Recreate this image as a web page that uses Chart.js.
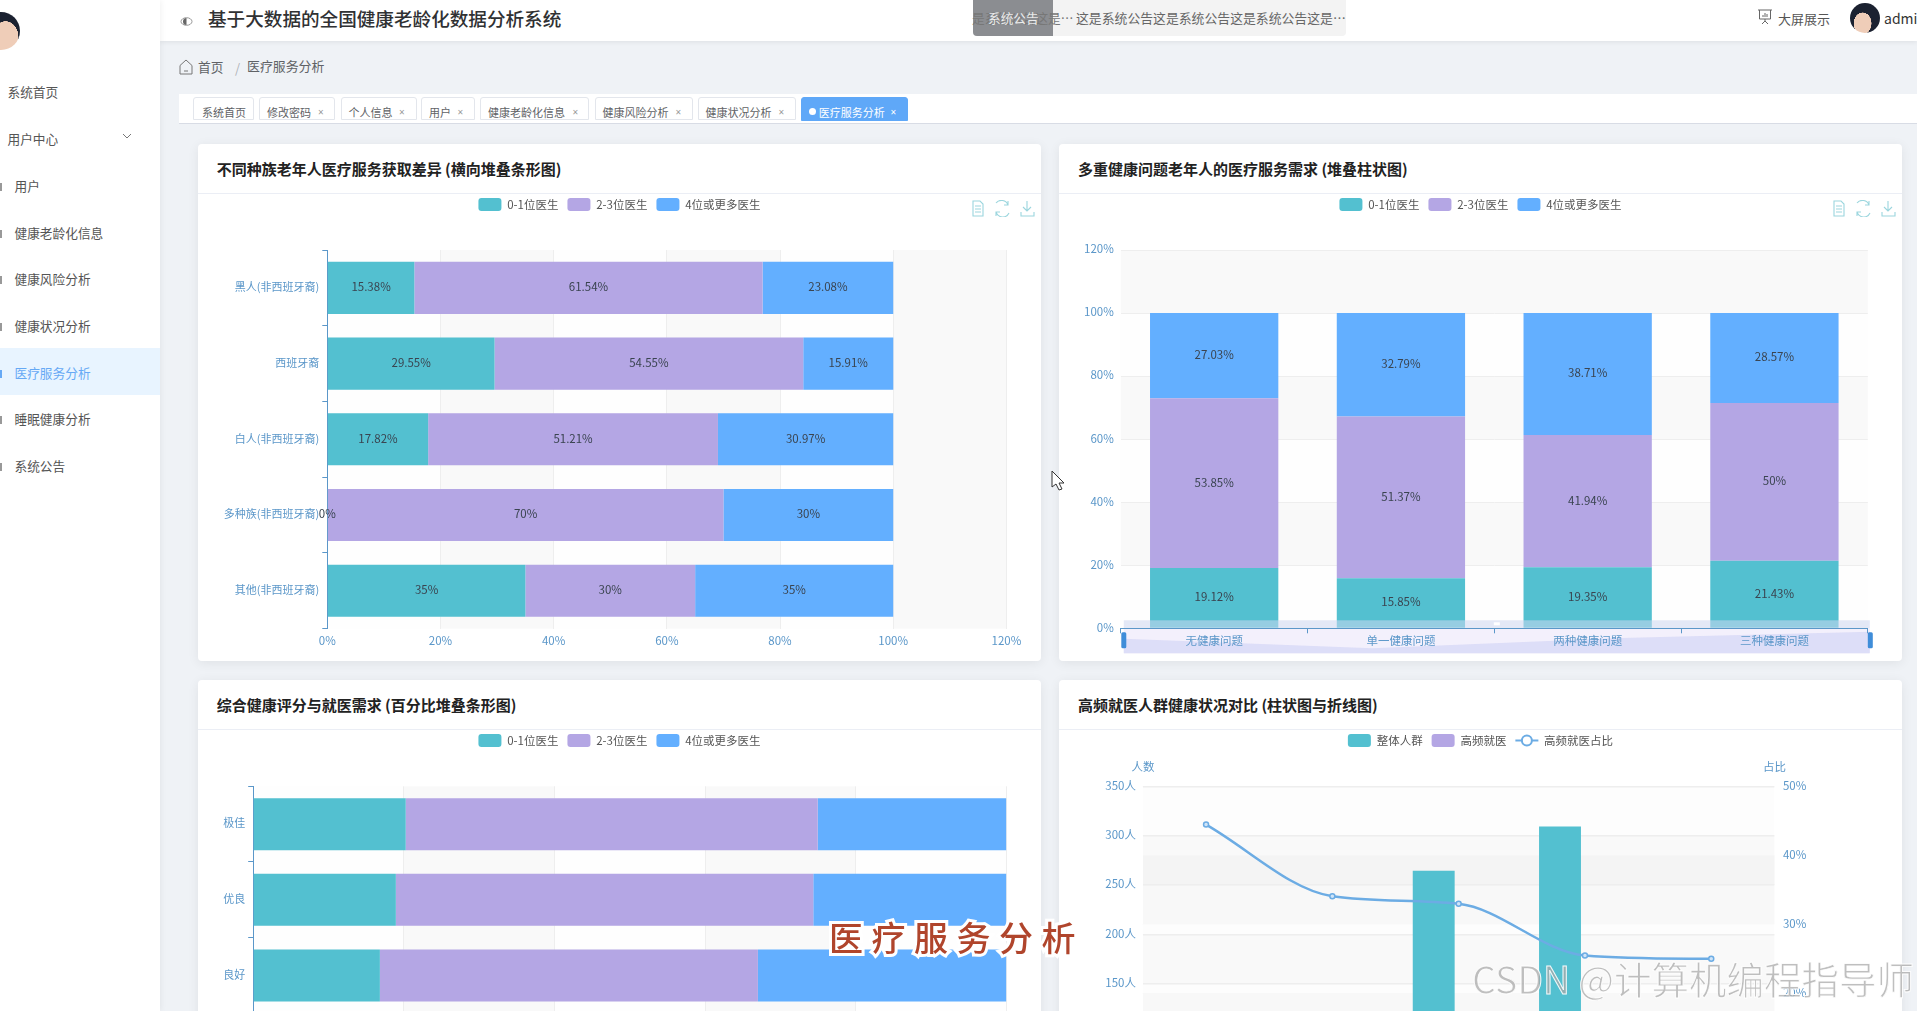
<!DOCTYPE html>
<html lang="zh">
<head>
<meta charset="utf-8">
<title>医疗服务分析</title>
<script src="https://cdn.jsdelivr.net/npm/chart.js@4/dist/chart.umd.js"></script>
<style>
html,body{margin:0;padding:0;width:1917px;height:1011px;overflow:hidden;background:#eff2f6;font-family:"Noto Sans CJK SC","Noto Sans",sans-serif;}
#page{position:relative;width:1917px;height:1011px;overflow:hidden;}
.abs{position:absolute;white-space:nowrap;}
.t{position:absolute;white-space:nowrap;line-height:1;transform:translateY(-50%);}
.card{position:absolute;background:#fff;border-radius:4px;box-shadow:0 2px 12px rgba(0,0,0,.07);}
.card .hd{position:absolute;left:0;right:0;top:0;height:49px;border-bottom:1px solid #ebeef5;box-sizing:content-box;}
.card .ttl{position:absolute;left:19px;top:24px;transform:translateY(-50%);font-size:15px;font-weight:700;color:#222;line-height:1;white-space:nowrap;}
canvas{position:absolute;display:block;}
.tab{position:absolute;top:97px;height:23px;border:1px solid #e3e6ec;border-radius:3px 3px 0 0;background:#fff;box-sizing:border-box;}
</style>
</head>
<body>
<div id="page">
  <div class="abs" style="left:160px;top:0;width:1757px;height:41px;background:#fff;box-shadow:0 1px 5px rgba(0,0,0,.08);"></div>
  <div class="abs" style="left:0;top:0;width:160px;height:1011px;background:#fff;box-shadow:1px 0 6px rgba(0,0,0,.06);"></div>
  <div class="abs" style="left:0;top:348px;width:160px;height:47px;background:#e8f4ff;"></div>
  <div class="abs" style="left:-18px;top:12px;width:38px;height:38px;border-radius:50%;background:radial-gradient(ellipse 13px 16px at 62% 66%,#efcdb8 0 98%,transparent 100%),#1b2130;"></div>
  <div class="abs" style="left:1850px;top:3px;width:30px;height:30px;border-radius:50%;background:radial-gradient(ellipse 9px 11px at 42% 68%,#efcdb8 0 98%,transparent 100%),#1b2130;"></div>
  <svg class="abs" style="left:180px;top:17px" width="13" height="9" viewBox="0 0 13 9"><ellipse cx="6.500" cy="4.500" rx="5.500" ry="3.800" fill="#fff" stroke="#999"/><path d="M6.500 1a3.500 3.500 0 0 0 0 7z" fill="#666"/></svg>
  <svg class="abs" style="left:122px;top:133px" width="10" height="7" viewBox="0 0 10 7"><path d="M1 1l4 4 4-4" fill="none" stroke="#777"/></svg>
  <svg class="abs" style="left:179px;top:59px" width="14" height="16" viewBox="0 0 14 16"><path d="M1 6.500L7 1l6 5.500V15H1z M5 12h4" fill="none" stroke="#777"/></svg>
  <svg class="abs" style="left:1757px;top:9px" width="16" height="16" viewBox="0 0 16 16"><path d="M1 1h14M2.500 1v9h11V1M8 10v2M5 15l3-3 3 3M6 8V6M8 8V4M10 8V5" fill="none" stroke="#666"/></svg>
  <div class="abs" style="left:178.800px;top:94px;width:1738px;height:30px;background:#fff;border-bottom:1px solid #d8dce5;box-sizing:border-box;"></div>
  <div class="abs" style="left:973px;top:0;width:373px;height:36px;background:#f3f3f3;border-radius:0 0 4px 4px;"></div>
  <div class="abs" style="left:973px;top:0;width:80px;height:36px;background:#8b8d91;border-radius:0 0 0 4px;"></div>

  <div class="card" style="left:197.700px;top:144px;width:843px;height:517px;"><div class="hd"></div><div class="ttl">不同种族老年人医疗服务获取差异 (横向堆叠条形图)</div></div>
  <div class="card" style="left:1059px;top:144px;width:843px;height:517px;"><div class="hd"></div><div class="ttl">多重健康问题老年人的医疗服务需求 (堆叠柱状图)</div></div>
  <div class="card" style="left:197.700px;top:680px;width:843px;height:517px;"><div class="hd"></div><div class="ttl">综合健康评分与就医需求 (百分比堆叠条形图)</div></div>
  <div class="card" style="left:1059px;top:680px;width:843px;height:517px;"><div class="hd"></div><div class="ttl">高频就医人群健康状况对比 (柱状图与折线图)</div></div>

  <canvas id="c1" style="left:197.700px;top:189px" width="843" height="472"></canvas>
  <canvas id="c2" style="left:1059px;top:189px" width="843" height="472"></canvas>
  <canvas id="c3" style="left:197.700px;top:725px" width="843" height="321"></canvas>
  <canvas id="c4" style="left:1059px;top:725px" width="843" height="438"></canvas>

  <div id="chrome"></div>

  <svg class="abs" style="left:972px;top:200px" width="64" height="17" viewBox="0 0 64 17" fill="none" stroke="#9bd6de" stroke-width="1.100"><path d="M1 1h7l3 3v12H1z M3 6h6M3 9h6M3 12h6"/><path d="M24 3a7 7 0 0 1 12 2M37 13a7 7 0 0 1-13-1M36 1v4h-4M24 16v-4h4"/><path d="M55 1v10M51 7l4 4 4-4M49 12v4h13v-4"/></svg>
  <svg class="abs" style="left:1833px;top:200px" width="64" height="17" viewBox="0 0 64 17" fill="none" stroke="#9bd6de" stroke-width="1.100"><path d="M1 1h7l3 3v12H1z M3 6h6M3 9h6M3 12h6"/><path d="M24 3a7 7 0 0 1 12 2M37 13a7 7 0 0 1-13-1M36 1v4h-4M24 16v-4h4"/><path d="M55 1v10M51 7l4 4 4-4M49 12v4h13v-4"/></svg>
  <svg class="abs" style="left:1051px;top:470px" width="16" height="22" viewBox="0 0 16 22"><path d="M1 1v16l4-3 3 6 3-1-3-6h5z" fill="#fff" stroke="#333"/></svg>

  <div class="t" style="left:829px;top:937px;font-size:34px;letter-spacing:8.500px;color:#b0452c;font-weight:500;-webkit-text-stroke:6px #fff;paint-order:stroke fill;">医疗服务分析</div>
  <div class="t" style="left:1472px;top:978px;font-size:37.500px;color:rgba(170,170,170,.75);-webkit-text-stroke:1px rgba(255,255,255,.9);">CSDN @计算机编程指导师</div>
</div>

<script>
// ---------- chart data ----------
const doctorLegend = ['0-1位医生', '2-3位医生', '4位或更多医生'];

const raceCategories = ['黑人(非西班牙裔)', '西班牙裔', '白人(非西班牙裔)', '多种族(非西班牙裔)', '其他(非西班牙裔)'];
const raceLow  = [15.38, 29.55, 17.82, 0, 35];
const raceMid  = [61.54, 54.55, 51.21, 70, 30];
const raceHigh = [23.08, 15.91, 30.97, 30, 35];

const illnessCategories = ['无健康问题', '单一健康问题', '两种健康问题', '三种健康问题'];
const illnessLow  = [19.12, 15.85, 19.35, 21.43];
const illnessMid  = [53.85, 51.37, 41.94, 50];
const illnessHigh = [27.03, 32.79, 38.71, 28.57];

const scoreCategories = ['极佳', '优良', '良好'];
const scoreLow  = [20.25, 18.94, 16.82];
const scoreMid  = [54.70, 55.42, 50.19];
const scoreHigh = [25.05, 25.64, 32.99];

const frequentLegend = ['整体人群', '高频就医', '高频就医占比'];
const frequentCategories = ['极佳', '优良', '良好', '一般', '较差'];
const frequentAll   = [null, null, 264.5, 309.6, null];
const frequentHigh  = [null, null, null, null, null];
const frequentShare = [44.5, 34.1, 33.0, 25.5, 25.0];

// ---------- page chrome text ----------
const menuItems = [['系统首页',8,93],['用户中心',8,140],['用户',15,187],['健康老龄化信息',15,233.5],['健康风险分析',15,280],['健康状况分析',15,327],['医疗服务分析',15,373.5],['睡眠健康分析',15,420],['系统公告',15,467]];
const tabs = [['系统首页',193,61,202,null],['修改密码',259,76,267,318],['个人信息',340.5,76,348.4,399],['用户',421,54,429,457.5],['健康老龄化信息',479.5,109,488,572.5],['健康风险分析',594.6,98,602.6,675.5],['健康状况分析',697.5,98,705.4,778.5]];

const chrome = document.getElementById('chrome');
function txt(s, x, y, size, color, extra) {
  const d = document.createElement('div');
  d.className = 't'; d.textContent = s;
  d.style.cssText = `left:${x}px;top:${y}px;font-size:${size}px;color:${color};${extra||''}`;
  chrome.appendChild(d);
}
menuItems.forEach(m => txt(m[0], m[1]-0.5, m[2]-0.7, 12.7, m[0]==='医疗服务分析' ? '#66a9f5' : '#555'));
txt('基于大数据的全国健康老龄化数据分析系统', 208, 17.5, 18.6, '#303133', 'font-weight:500;');
txt('首页', 198, 67, 12.7, '#606266');
txt('/', 235, 67, 13, '#b0b3b8');
txt('医疗服务分析', 247, 66, 12.9, '#606266');
txt('是系统公告这是…', 972, 18, 12.7, '#777');
txt('系统公告', 988, 18, 12.7, 'rgba(255,255,255,.85)');
txt('这是系统公告这是系统公告这是系统公告这是…', 1076, 18, 12.85, '#666');
txt('大屏展示', 1778, 18, 13, '#555');
txt('admin', 1884, 18, 14, '#333');
tabs.forEach(t => {
  const b = document.createElement('div');
  b.className = 'tab'; b.style.left = t[1]+'px'; b.style.width = t[2]+'px';
  chrome.appendChild(b);
  txt(t[0], t[3], 112, 11, '#606266');
  if (t[4]) txt('×', t[4], 112, 10, '#999', 'font-family:"Noto Sans";');
});
const active = document.createElement('div');
active.className = 'tab';
active.style.cssText = 'left:801px;width:106.5px;top:97px;height:24px;background:#5fa8f8;border-color:#5fa8f8;';
chrome.appendChild(active);
const dot = document.createElement('div');
dot.className = 'abs';
dot.style.cssText = 'left:809px;top:108px;width:7px;height:7px;border-radius:50%;background:#fff;';
chrome.appendChild(dot);
txt('医疗服务分析', 818.7, 112, 11, '#fff');
txt('×', 890.5, 112, 10, '#fff', 'font-family:"Noto Sans";');
[187,233.5,280,327,373.5,420,467].forEach((y,i) => {
  const m = document.createElement('div');
  m.className = 'abs';
  m.style.cssText = `left:0;top:${y-4}px;width:2px;height:8px;background:${i===4?'#66a9f5':'#999'};`;
  chrome.appendChild(m);
});

// ---------- Chart.js ----------
const FONT = '"Noto Sans CJK SC","Noto Sans",sans-serif';
const TEAL = '#53c0d0', PURPLE = '#b4a6e4', BLUE = '#63afff', AXIS = '#5b97c9', LINE = '#6cace4', GRID = '#eeeeee';
Chart.defaults.font.family = FONT;
Chart.defaults.animation = false;

const legendGap = { id:'legendGap',
  beforeInit(chart) {
    const fit = chart.legend.fit;
    chart.legend.fit = function () { fit.call(this); this.height += chart.options.plugins.legendGap.extra; };
  },
  afterLayout(chart, _a, opts) { if (opts.rightPad) chart.legend.right += opts.rightPad; }
};
const splitArea = { id:'splitArea', beforeDraw(chart, _a, opts) {
  const { ctx, chartArea:a } = chart;
  (opts.scales||[]).forEach(id => {
    const s = chart.scales[id];
    s.ticks.forEach((t,i) => {
      if (i === s.ticks.length-1) return;
      const p0 = s.getPixelForValue(t.value), p1 = s.getPixelForValue(s.ticks[i+1].value);
      ctx.fillStyle = i % 2 ? 'rgba(200,200,200,.11)' : 'rgba(250,250,250,.25)';
      if (s.isHorizontal()) ctx.fillRect(p0, a.top, p1-p0, a.height);
      else ctx.fillRect(a.left, p1, a.width, p0-p1);
    });
  });
}};
const barText = { id:'barText', afterDatasetsDraw(chart, _a, opts) {
  if (!opts.on) return;
  const ctx = chart.ctx;
  ctx.save();
  ctx.font = `11.5px ${FONT}`; ctx.fillStyle = '#3a4450';
  ctx.textAlign = 'center'; ctx.textBaseline = 'middle';
  chart.data.datasets.forEach((ds,i) => {
    chart.getDatasetMeta(i).data.forEach((el,j) => {
      const c = el.getCenterPoint();
      ctx.fillText(ds.data[j] + '%', c.x, c.y - 1);
    });
  });
  ctx.restore();
}};
const slider = { id:'slider', afterDatasetsDraw(chart, _a, opts) {
  if (!opts.data) return;
  const { ctx, chartArea:a } = chart;
  const L = a.left+3, R = a.right+2, T = a.bottom-8, M = a.bottom, B = a.bottom+25;
  const lo = Math.min(...opts.data), hi = Math.max(...opts.data);
  const px = i => L + (R-L)*i/(opts.data.length-1);
  const py = v => M+20 - (v-lo)/(hi-lo)*16.5;
  ctx.save();
  ctx.fillStyle = 'rgba(205,215,240,.55)'; ctx.fillRect(L,T,R-L,M-T);
  ctx.fillStyle = 'rgba(228,222,248,.45)'; ctx.fillRect(L,M,R-L,B-M);
  ctx.beginPath(); ctx.moveTo(L,B);
  opts.data.forEach((v,i) => ctx.lineTo(px(i),py(v)));
  ctx.lineTo(R,B); ctx.closePath();
  ctx.fillStyle = 'rgba(190,195,240,.42)'; ctx.fill();
  ctx.fillStyle = '#fff'; ctx.fillRect((L+R)/2-3, T+2, 6, 3);
  ctx.fillStyle = '#3f8dd9';
  [[L-2.5,5],[R-2,5]].forEach(h => { ctx.beginPath(); ctx.roundRect(h[0], M+4, h[1], 16, 1.5); ctx.fill(); });
  ctx.restore();
}};
const extras = { id:'extras', afterDraw(chart, _a, opts) {
  const ctx = chart.ctx;
  if (opts.names) {
    ctx.save(); ctx.font = `11.5px ${FONT}`; ctx.fillStyle = AXIS; ctx.textAlign = 'center'; ctx.textBaseline = 'middle';
    opts.names.forEach(n => { const s = chart.scales[n.scale]; ctx.fillText(n.text, n.left ? s.right : s.left, chart.chartArea.top - 20); });
    ctx.restore();
  }
  if (opts.lineLegend !== undefined) {
    const b = chart.legend.legendHitBoxes[opts.lineLegend];
    const y = b.top + 6.5, x = b.left;
    ctx.save(); ctx.strokeStyle = LINE; ctx.lineWidth = 2;
    ctx.beginPath(); ctx.moveTo(x,y); ctx.lineTo(x+23,y); ctx.stroke();
    ctx.beginPath(); ctx.arc(x+11.5,y,5,0,Math.PI*2); ctx.fillStyle = '#fff'; ctx.fill(); ctx.stroke();
    ctx.restore();
  }
}};
Chart.register(legendGap, splitArea, barText, slider, extras);

const legendOpts = () => ({
  position:'top',
  labels:{ boxWidth:23, boxHeight:13, padding:9, useBorderRadius:true, borderRadius:3, color:'#555', font:{size:11.5} }
});
const tickFont = { size:11.5 };
const pct = v => v + '%';

function stackedDatasets(low, mid, high, names) {
  return [[low,TEAL],[mid,PURPLE],[high,BLUE]].map((p,i) => ({
    label:names[i], data:p[0], backgroundColor:p[1], borderWidth:0, barPercentage:.687, categoryPercentage:1
  }));
}
function horizontal(id, cats, low, mid, high, opt) {
  return new Chart(document.getElementById(id), {
    type:'bar',
    data:{ labels:cats, datasets:stackedDatasets(low,mid,high,doctorLegend) },
    options:{
      indexAxis:'y', responsive:false, events:[],
      layout:{ padding:{ right:34.6, left:0, top:0, bottom:0 } },
      plugins:{ legend:legendOpts(), tooltip:{enabled:false}, legendGap:{extra:opt.gap, rightPad:34.6}, splitArea:{scales:['x']}, barText:{on:opt.labels} },
      scales:{
        x:{ stacked:true, min:0, max:opt.max, ticks:{ stepSize:20, color:AXIS, font:tickFont, padding:5, callback:pct, maxRotation:0 },
            grid:{ color:GRID, drawTicks:false }, border:{ display:false },
            afterFit(s){ s.height = opt.bottom; } },
        y:{ stacked:true, ticks:{ color:AXIS, font:{size:11}, padding:3, autoSkip:false, labelOffset:-1 },
            grid:{ drawOnChartArea:false, tickColor:AXIS, tickLength:5, offset:true }, border:{ color:AXIS },
            afterFit(s){ s.width = opt.left; } }
      }
    }
  });
}

horizontal('c1', raceCategories, raceLow, raceMid, raceHigh, { gap:29, max:120, left:129.3, bottom:32.3, labels:true });
horizontal('c3', scoreCategories, scoreLow, scoreMid, scoreHigh, { gap:29.3, max:100, left:55.2, bottom:32.6, labels:false });

new Chart(document.getElementById('c2'), {
  type:'bar',
  data:{ labels:illnessCategories, datasets:stackedDatasets(illnessLow,illnessMid,illnessHigh,doctorLegend) },
  options:{
    responsive:false, events:[],
    layout:{ padding:{ right:34.2, left:0, top:0, bottom:0 } },
    plugins:{ legend:legendOpts(), tooltip:{enabled:false}, legendGap:{extra:29, rightPad:34.2}, splitArea:{scales:['y']}, barText:{on:true}, slider:{data:illnessLow} },
    scales:{
      x:{ stacked:true, ticks:{ color:AXIS, font:{size:11.5}, padding:0, autoSkip:false, maxRotation:0, z:1 },
          grid:{ drawOnChartArea:false, tickColor:AXIS, tickLength:5, offset:true, z:1 }, border:{ color:AXIS, z:1 },
          afterFit(s){ s.height = 32.7; } },
      y:{ stacked:true, min:0, max:120, ticks:{ stepSize:20, color:AXIS, font:tickFont, padding:7, callback:pct, labelOffset:-1 },
          grid:{ color:GRID, drawTicks:false }, border:{ display:false },
          afterFit(s){ s.width = 61.8; } }
    }
  }
});

new Chart(document.getElementById('c4'), {
  type:'bar',
  data:{ labels:frequentCategories, datasets:[
    { label:frequentLegend[0], data:frequentAll, backgroundColor:TEAL, yAxisID:'yL', order:2, barPercentage:.84, categoryPercentage:.79 },
    { label:frequentLegend[1], data:frequentHigh, backgroundColor:PURPLE, yAxisID:'yL', order:2, barPercentage:.84, categoryPercentage:.79 },
    { type:'line', label:frequentLegend[2], data:frequentShare, yAxisID:'yR', order:1, borderColor:LINE, backgroundColor:'rgba(0,0,0,0)', borderWidth:2.5, cubicInterpolationMode:'monotone', pointRadius:2.5, pointBackgroundColor:'#cfe4f8', pointBorderColor:LINE, pointBorderWidth:1.5 }
  ]},
  options:{
    responsive:false, events:[],
    layout:{ padding:{ left:0, right:0, top:0, bottom:0 } },
    plugins:{
      legend:{ position:'top', labels:{ boxWidth:23, boxHeight:13, padding:9, useBorderRadius:true, borderRadius:3, color:'#555', font:{size:11.5},
        generateLabels(chart){
          const items = Chart.defaults.plugins.legend.labels.generateLabels(chart).sort((a,b) => a.datasetIndex - b.datasetIndex);
          items[2].fillStyle = 'rgba(0,0,0,0)'; items[2].strokeStyle = 'rgba(0,0,0,0)'; items[2].lineWidth = 0;
          return items;
        } } },
      tooltip:{enabled:false}, legendGap:{extra:29.700}, splitArea:{scales:['yL','yR']},
      extras:{ lineLegend:2, names:[{scale:'yL',text:'人数',left:true},{scale:'yR',text:'占比',left:false}] }
    },
    scales:{
      x:{ ticks:{ color:AXIS, font:tickFont, autoSkip:false, maxRotation:0 }, grid:{ drawOnChartArea:false, tickColor:AXIS, offset:true }, border:{ color:AXIS }, afterFit(s){ s.height = 32; } },
      yL:{ position:'left', min:0, max:350, ticks:{ stepSize:50, color:AXIS, font:tickFont, padding:7, labelOffset:-1, callback:v => v + '人' }, grid:{ color:GRID, lineWidth:1.500, drawTicks:false }, border:{ display:false }, afterFit(s){ s.width = 83.9; } },
      yR:{ position:'right', min:0, max:50, ticks:{ stepSize:10, color:AXIS, font:tickFont, padding:8.500, labelOffset:-1, callback:pct }, grid:{ drawOnChartArea:false, drawTicks:false }, border:{ display:false }, afterFit(s){ s.width = 127.6; } }
    }
  }
});
</script>
</body>
</html>
